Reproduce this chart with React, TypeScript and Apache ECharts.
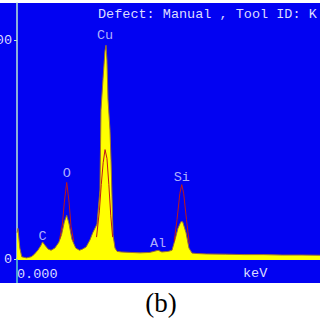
import React, { useEffect, useRef } from "react";
import * as echarts from "echarts";

// Measured spectrum (yellow), energy in keV and counts (% of full scale)
const specEnergy = [0.0, 0.01, 0.03, 0.05, 0.1, 0.15, 0.18, 0.22, 0.25, 0.27, 0.3, 0.33, 0.36, 0.4, 0.44, 0.47, 0.5, 0.525, 0.55, 0.58, 0.62, 0.66, 0.69, 0.73, 0.77, 0.8, 0.845, 0.876, 0.887, 0.908, 0.929, 0.94, 0.95, 0.961, 0.982, 0.993, 1.003, 1.014, 1.035, 1.056, 1.1, 1.2, 1.3, 1.4, 1.45, 1.49, 1.53, 1.6, 1.637, 1.668, 1.7, 1.73, 1.75, 1.785, 1.816, 1.848, 1.9, 2.0, 2.2, 2.4, 2.6, 2.8, 3.0, 3.2];
const specCounts = [12, 14, 5, 1, 0.5, 1, 2, 4, 6, 7.8, 6, 4.5, 4, 5, 7.5, 11, 17, 20, 16, 9, 5, 4, 4.5, 5.5, 8.7, 12, 16, 31.5, 68, 82, 95, 97.7, 91, 73, 59, 45, 29, 11, 5, 3.5, 3.2, 3, 2.8, 3, 3.5, 4, 3.2, 3.5, 4, 8.7, 14, 17, 17, 12, 5, 2.7, 2.5, 2.3, 2.2, 2, 2, 1.8, 1.8, 1.7];

// Reference spectrum (red outline), only around the marked peaks
const refEnergy = [0.45, 0.48, 0.5, 0.525, 0.55, 0.57, 0.6, null, 0.84, 0.87, 0.89, 0.91, 0.93, 0.95, 0.97, 0.99, 1.01, null, 1.66, 1.69, 1.72, 1.74, 1.76, 1.79, 1.82];
const refCounts = [9, 16, 26, 35, 26, 15, 8, null, 10, 22, 34, 44, 50, 46, 34, 20, 10, null, 8, 18, 30, 34, 30, 18, 7];

// Element markers
const elementNames = ["C", "O", "Cu", "Al", "Si"];
const elementEnergy = [0.27, 0.525, 0.93, 1.489, 1.74];
const elementLabelLevel = [10.5, 39.3, 102, 7.3, 37.4];

const yTicks = [0, 100];
const xTickLabel = "0.000";

const MONO = "'Liberation Mono', 'DejaVu Sans Mono', monospace";
const TEXT_COLOR = "#dcdcff";

export default function App() {
  const ref = useRef<HTMLDivElement>(null);
  useEffect(() => {
    if (!ref.current) return;
    const chart = echarts.init(ref.current, null, { renderer: "svg" });
    const spec = specEnergy.map((e, i) => [e, specCounts[i]]);
    const refLine = refEnergy.map((e, i) => (e === null ? [null, null] : [e, refCounts[i]]));
    const marks = elementNames.map((n, i) => ({ name: n, value: [elementEnergy[i], elementLabelLevel[i]] }));
    chart.setOption({
      animation: false,
      backgroundColor: "#ffffff",
      grid: { left: 17, right: 0, top: 3, bottom: 61, containLabel: false, outerBoundsMode: "none" },
      xAxis: {
        type: "value",
        min: 0,
        max: 3.2,
        interval: 3.2,
        axisLine: { show: true, lineStyle: { color: "#ffff00", width: 2 } },
        axisTick: { show: false },
        splitLine: { show: false },
        axisLabel: {
          formatter: (v: number) => (v === 0 ? xTickLabel : ""),
          align: "left",
          color: TEXT_COLOR,
          fontFamily: MONO,
          fontSize: 13.5,
          margin: 8,
          showMaxLabel: false,
        },
      },
      yAxis: {
        type: "value",
        min: 0,
        max: 117,
        interval: 100,
        axisLine: { show: true, lineStyle: { color: "#b8ead4", width: 1.5 } },
        axisTick: { show: true, length: 3, lineStyle: { color: "#b8ead4" } },
        splitLine: { show: false },
        axisLabel: {
          formatter: (v: number) => (yTicks.includes(v) ? String(v) : ""),
          color: TEXT_COLOR,
          fontFamily: MONO,
          fontSize: 13.5,
          margin: 5,
          showMaxLabel: false,
        },
      },
      graphic: [
        { type: "rect", z: -10, shape: { x: 0, y: 3, width: 320, height: 280 }, style: { fill: "#0202f2" } },
        { type: "line", z: 10, shape: { x1: 17, y1: 259, x2: 17, y2: 283 }, style: { stroke: "#60d0c8", lineWidth: 1.5 } },
        {
          type: "text", z: 10, x: 98, y: 14,
          style: { text: "Defect: Manual , Tool ID: K", fill: TEXT_COLOR, font: `13.5px ${MONO}`, verticalAlign: "middle", align: "left" },
        },
        {
          type: "text", z: 10, x: 243, y: 273,
          style: { text: "keV", fill: TEXT_COLOR, font: `13.5px ${MONO}`, verticalAlign: "middle", align: "left" },
        },
        {
          type: "text", z: 10, x: 161, y: 303,
          style: { text: "(b)", fill: "#000000", font: "27px 'Liberation Serif', 'DejaVu Serif', serif", verticalAlign: "middle", align: "center" },
        },
      ],
      series: [
        {
          type: "line",
          data: spec,
          symbol: "none",
          z: 2,
          lineStyle: { color: "#9a7030", width: 1 },
          areaStyle: { color: "#ffff00", opacity: 1 },
        },
        {
          type: "line",
          data: refLine,
          symbol: "none",
          connectNulls: false,
          z: 3,
          lineStyle: { color: "#c01818", width: 1 },
        },
        {
          type: "scatter",
          data: marks,
          symbolSize: 0,
          z: 4,
          label: {
            show: true,
            position: "inside",
            formatter: (p: any) => p.name,
            color: TEXT_COLOR,
            fontFamily: MONO,
            fontSize: 13.5,
          },
        },
      ],
    });
    return () => chart.dispose();
  }, []);
  return <div ref={ref} style={{ position: "fixed", left: 0, top: 0, width: 320, height: 320 }} />;
}
